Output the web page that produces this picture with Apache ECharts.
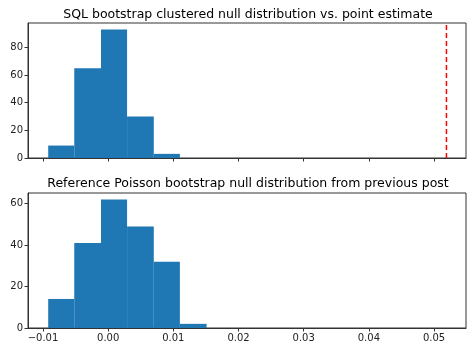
<!DOCTYPE html>
<html>
<head>
<meta charset="utf-8">
<script src="https://cdn.jsdelivr.net/npm/echarts@6/dist/echarts.min.js"></script>
<style>
  html, body { margin: 0; padding: 0; background: #fff; }
  #chart { width: 474px; height: 353px; }
</style>
</head>
<body>
<div id="chart"></div>
<script>
// histogram bin edges (shared by both panels)
var binEdges = [-0.0092, -0.0052, -0.0011, 0.0029, 0.0070, 0.0110, 0.0151];
var sqlCounts = [9, 65, 93, 30, 3];
var poissonCounts = [14, 41, 62, 49, 32, 2];
var pointEstimate = 0.0519;
var xTicks = [-0.01, 0.00, 0.01, 0.02, 0.03, 0.04, 0.05];
var titles = [
  'SQL bootstrap clustered null distribution vs. point estimate',
  'Reference Poisson bootstrap null distribution from previous post'
];

var barColor = '#1f77b4';
var font = 'DejaVu Sans';
var topYMax = 97.65;
var bottomYMax = 65.1;

function toBins(counts) {
  return counts.map(function (c, i) {
    return [binEdges[i], binEdges[i + 1], c];
  });
}

function renderBin(params, api) {
  var p0 = api.coord([api.value(0), api.value(2)]);
  var p1 = api.coord([api.value(1), 0]);
  return {
    type: 'rect',
    shape: { x: p0[0], y: p0[1], width: p1[0] - p0[0], height: p1[1] - p0[1] },
    style: { fill: barColor }
  };
}

function xAxisFor(idx, showLabels) {
  return {
    type: 'value',
    gridIndex: idx,
    min: -0.0123,
    max: 0.0549,
    splitLine: { show: false },
    axisLine: { show: true, onZero: false, lineStyle: { color: '#333', width: 1 } },
    axisTick: { show: true, customValues: xTicks, length: 3.5, lineStyle: { color: '#333' } },
    axisLabel: {
      show: showLabels,
      customValues: xTicks,
      color: '#222',
      fontFamily: font,
      fontSize: 10,
      margin: 5,
      formatter: function (v) { return v.toFixed(2).replace('-', '\u2212'); }
    }
  };
}

function yAxisFor(idx, max) {
  return {
    type: 'value',
    gridIndex: idx,
    min: 0,
    max: max,
    interval: 20,
    splitLine: { show: false },
    axisLine: { show: true, onZero: false, lineStyle: { color: '#333', width: 1 } },
    axisTick: { show: true, length: 3.5, lineStyle: { color: '#333' } },
    axisLabel: { color: '#222', fontFamily: font, fontSize: 10, margin: 5, showMaxLabel: false }
  };
}

var chart = echarts.init(document.getElementById('chart'), null, { renderer: 'canvas' });

chart.setOption({
  animation: false,
  backgroundColor: '#fff',
  title: [
    { text: titles[0], left: 243, top: 3, textAlign: 'center',
      textStyle: { fontFamily: font, fontSize: 12.5, fontWeight: 'normal', color: '#000' } },
    { text: titles[1], left: 243, top: 172, textAlign: 'center',
      textStyle: { fontFamily: font, fontSize: 12.5, fontWeight: 'normal', color: '#000' } }
  ],
  grid: [
    { left: 28, right: 8, top: 23, height: 135, show: true, borderColor: '#333', borderWidth: 1 },
    { left: 28, right: 8, top: 193, height: 135, show: true, borderColor: '#333', borderWidth: 1 }
  ],
  xAxis: [xAxisFor(0, false), xAxisFor(1, true)],
  yAxis: [yAxisFor(0, topYMax), yAxisFor(1, bottomYMax)],
  series: [
    {
      type: 'custom',
      xAxisIndex: 0,
      yAxisIndex: 0,
      renderItem: renderBin,
      encode: { x: [0, 1], y: 2 },
      data: toBins(sqlCounts)
    },
    {
      // point estimate marker
      type: 'line',
      xAxisIndex: 0,
      yAxisIndex: 0,
      symbol: 'none',
      silent: true,
      lineStyle: { color: '#ff0000', type: [5, 3], width: 1.5 },
      data: [[pointEstimate, 0], [pointEstimate, topYMax]]
    },
    {
      type: 'custom',
      xAxisIndex: 1,
      yAxisIndex: 1,
      renderItem: renderBin,
      encode: { x: [0, 1], y: 2 },
      data: toBins(poissonCounts)
    }
  ]
});
</script>
</body>
</html>
